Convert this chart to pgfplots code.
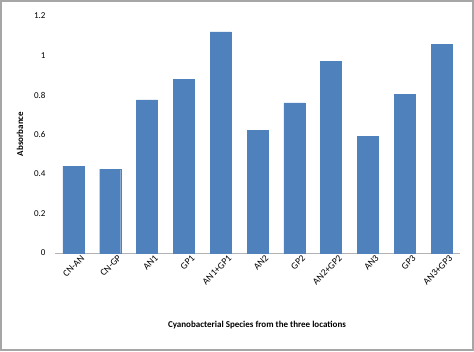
\documentclass[border=0pt]{standalone}
\usepackage{pgfplots}
\pgfplotsset{compat=1.18}
\usepackage{fontspec}
\setmainfont{Carlito}
\definecolor{barblue}{HTML}{4F81BD}
\begin{document}
\begin{tikzpicture}
\fill[white] (-55pt,-98pt) rectangle (419pt,253pt);
\draw[gray!70,line width=2pt] (-54pt,-97pt) rectangle (418pt,252pt);
\begin{axis}[
  scale only axis, width=405pt, height=237pt,
  ybar, bar width=21pt,
  ymin=0, ymax=1.2, ytick={0,0.2,...,1.2},
  yticklabels={0,0.2,0.4,0.6,0.8,1,1.2},
  xmin=-0.5, xmax=10.5,
  xtick={0,...,10},
  xticklabels={CN-AN,CN-GP,AN1,GP1,AN1+GP1,AN2,GP2,AN2+GP2,AN3,GP3,AN3+GP3},
  axis line style={draw=none},
  extra y ticks={0}, extra y tick labels={},
  extra y tick style={ymajorgrids=true, major grid style={gray!60, line width=0.6pt}},
  major tick length=0pt,
  tick style={draw=none},
  yticklabel style={font=\fontsize{9}{10}\selectfont, xshift=-6pt},
  /pgf/number format/assume math mode=true,
  x tick label style={font=\fontsize{9.5}{11}\selectfont, inner sep=0pt, rotate=45, anchor=north east, xshift=4pt, yshift=-6pt},
]
\addplot[fill=barblue, draw=barblue] coordinates {
(0,0.44) (1,0.425) (2,0.775) (3,0.88) (4,1.12) (5,0.62) (6,0.76) (7,0.97) (8,0.59) (9,0.805) (10,1.055)
};
\end{axis}
\node[font=\fontsize{9}{10}\selectfont\bfseries] at (202pt,-72pt) {Cyanobacterial Species from the three locations};
\node[font=\fontsize{9}{10}\selectfont\bfseries, rotate=90] at (-35pt,119pt) {Absorbance};
\end{tikzpicture}
\end{document}
